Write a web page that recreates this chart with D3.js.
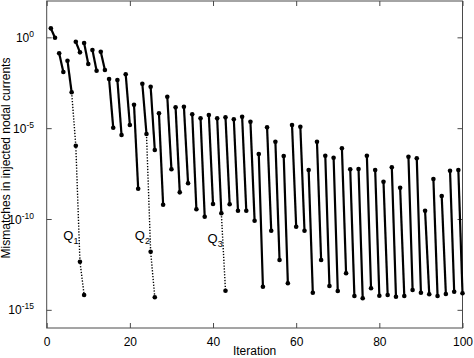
<!DOCTYPE html>
<html><head><meta charset="utf-8">
<script src="https://cdn.jsdelivr.net/npm/d3@7"></script>
<style>
html,body{margin:0;padding:0;background:#fff;}
svg{display:block;font-family:Arial,"Liberation Sans",Helvetica,sans-serif;}
</style></head>
<body>
<svg id="chart" width="474" height="358"></svg>
<script>
// ---- data ----
const iterations = d3.range(1, 101);
const mismatch = [
  3.13, 0.95, 0.132, 0.0123, 0.0515, 9.4e-4, 0.573, 0.149, 0.485, 0.034,
  0.2, 0.0145, 0.161, 0.0158, 5.07e-3, 1.06e-5, 4.47e-3, 4.2e-6, 9.2e-3, 1.49e-5,
  1.95e-4, 4.66e-9, 2.79e-3, 4.76e-6, 1.91e-3, 6.27e-7, 6.56e-5, 6.12e-10, 5.38e-4, 5.43e-8,
  1.40e-4, 2.94e-9, 1.51e-4, 9.2e-9, 5.78e-5, 3.42e-10, 3.48e-5, 1.34e-10, 5.30e-5, 6.70e-10,
  3.48e-5, 2.06e-10, 3.95e-5, 6.44e-10, 3.07e-5, 2.86e-10, 4.27e-5, 2.86e-10, 2.26e-5, 8.05e-11,
  3.78e-7, 1.88e-14, 1.11e-5, 2.27e-11, 1.79e-6, 5.55e-13, 2.93e-7, 2.89e-14, 1.49e-5, 3.77e-11,
  1.20e-5, 2.27e-11, 4.98e-8, 8.79e-15, 1.79e-6, 5.55e-13, 3.05e-7, 2.06e-14, 2.37e-7, 1.09e-14,
  7.78e-7, 1.03e-13, 5.43e-8, 5.78e-15, 5.65e-8, 4.33e-15, 3.05e-7, 1.53e-14, 4.98e-8, 6.01e-15,
  1.13e-8, 6.56e-15, 7.0e-8, 5.30e-15, 5.28e-9, 5.78e-15, 2.69e-7, 1.24e-14, 2.19e-7, 8.79e-15,
  2.86e-10, 7.18e-15, 1.59e-8, 5.78e-15, 1.85e-9, 7.45e-15, 4.55e-8, 9.98e-15, 4.98e-8, 8.15e-15
];
const q1Iter = [6, 7, 8, 9];
const q1Values = [9.4e-4, 1.08e-6, 4.47e-13, 6.56e-15];
const q2Iter = [24, 25, 26];
const q2Values = [4.76e-6, 1.58e-12, 4.91e-15];
const q3Iter = [42, 43];
const q3Values = [2.06e-10, 1.13e-14];
const qLabels = ["1", "2", "3"];
const qLabelIter = [4.0, 21.2, 38.7];
const qLabelValue = [7.0e-12, 7.0e-12, 4.8e-12];
const xTicks = [0, 20, 40, 60, 80, 100];
const yTickExps = [0, -5, -10, -15];
const xTitle = "Iteration";
const yTitle = "Mismatches in injected nodal currents";

// ---- layout ----
const svg = d3.select("#chart");
const L = 46.7, R = 462.5, T = 1, B = 328;
const x = d3.scaleLinear().domain([0, 100]).range([L, R]);
const y = d3.scaleLog().domain([1e-16, 1e2]).range([B, T]);
const axisColor = "#4a4a4a";

// box
svg.append("rect").attr("x", L).attr("y", T).attr("width", R - L).attr("height", B - T)
  .attr("fill", "none").attr("stroke", axisColor).attr("stroke-width", 1);

// axes with inward ticks
const xAxisB = d3.axisBottom(x).tickValues(xTicks).tickSizeInner(-5).tickSizeOuter(0).tickPadding(9);
const gxb = svg.append("g").attr("transform", `translate(0,${B})`).call(xAxisB);
gxb.select(".domain").remove();
gxb.selectAll("line").attr("stroke", axisColor);
gxb.selectAll("text").attr("font-size", 12).attr("fill", "#000")
  .attr("font-family", "Arial, 'Liberation Sans', sans-serif");

const xAxisT = d3.axisTop(x).tickValues(xTicks).tickSizeInner(-5).tickSizeOuter(0).tickFormat("");
const gxt = svg.append("g").attr("transform", `translate(0,${T})`).call(xAxisT);
gxt.select(".domain").remove();
gxt.selectAll("line").attr("stroke", axisColor);

const yVals = yTickExps.map(e => Math.pow(10, e));
const yAxisL = d3.axisLeft(y).tickValues(yVals).tickSizeInner(-5).tickSizeOuter(0).tickFormat("");
const gyl = svg.append("g").attr("transform", `translate(${L},0)`).call(yAxisL);
gyl.select(".domain").remove();
gyl.selectAll("line").attr("stroke", axisColor);

const yAxisR = d3.axisRight(y).tickValues(yVals).tickSizeInner(-5).tickSizeOuter(0).tickFormat("");
const gyr = svg.append("g").attr("transform", `translate(${R},0)`).call(yAxisR);
gyr.select(".domain").remove();
gyr.selectAll("line").attr("stroke", axisColor);

// y tick labels 10^e
yTickExps.forEach(e => {
  const t = svg.append("text").attr("x", 34).attr("y", y(Math.pow(10, e)) + 4.5)
    .attr("text-anchor", "end").attr("font-size", 12).attr("fill", "#000");
  t.append("tspan").text("10");
  t.append("tspan").attr("dy", -5).attr("font-size", 8.5).text(String(e));
});

// titles
svg.append("text").attr("x", (L + R) / 2).attr("y", 355).attr("text-anchor", "middle")
  .attr("font-size", 12).attr("fill", "#000").text(xTitle);
svg.append("text").attr("transform", `translate(10,${158}) rotate(-90)`).attr("text-anchor", "middle")
  .attr("font-size", 12).attr("fill", "#000").text(yTitle);

// ---- marks ----
const pts = iterations.map((it, i) => ({ it, v: mismatch[i] }));
const line = d3.line().x(d => x(d.it)).y(d => y(d.v));
const plot = svg.append("g");

// dotted branches
[[q1Iter, q1Values], [q2Iter, q2Values], [q3Iter, q3Values]].forEach(([its, vs]) => {
  const bp = its.map((it, i) => ({ it, v: vs[i] }));
  plot.append("path").attr("d", line(bp)).attr("fill", "none")
    .attr("stroke", "#000").attr("stroke-width", 1.4).attr("stroke-dasharray", "1.3,1.6");
  plot.selectAll(null).data(bp.slice(1)).enter().append("circle")
    .attr("cx", d => x(d.it)).attr("cy", d => y(d.v)).attr("r", 2.3).attr("fill", "#000");
});

// solid segments: pairs (odd, even)
const pairs = d3.range(0, pts.length, 2).map(i => [pts[i], pts[i + 1]]);
plot.selectAll(null).data(pairs).enter().append("path")
  .attr("d", d => line(d)).attr("fill", "none").attr("stroke", "#000").attr("stroke-width", 2.2);
plot.selectAll(null).data(pts).enter().append("circle")
  .attr("cx", d => x(d.it)).attr("cy", d => y(d.v)).attr("r", 2.3).attr("fill", "#000");

// Q labels
qLabels.forEach((s, i) => {
  const t = svg.append("text").attr("x", x(qLabelIter[i])).attr("y", y(qLabelValue[i]))
    .attr("font-size", 13).attr("fill", "#000");
  t.append("tspan").text("Q");
  t.append("tspan").attr("dy", 4).attr("font-size", 9).text(s);
});
</script>
</body></html>
